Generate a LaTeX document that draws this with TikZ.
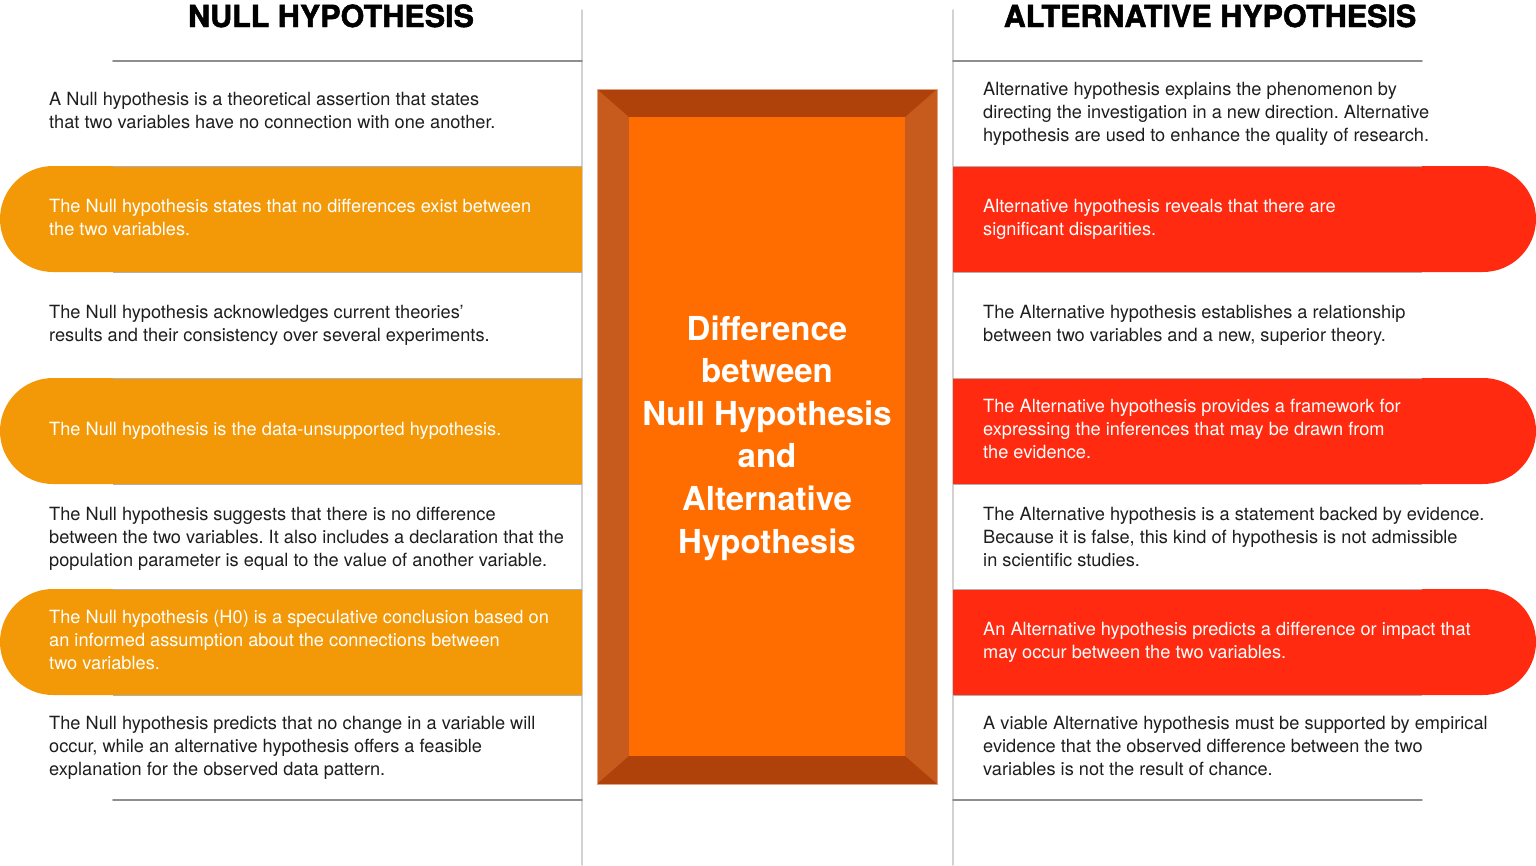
\documentclass[tikz,border=0pt]{standalone}
\RequirePackage{fontspec}
\RequirePackage{tikz}
\RequirePackage{tkz-euclide}
\usetikzlibrary{calc}
\setmainfont{TeX Gyre Heros}
\newfontfamily\headfont{TeX Gyre Heros}[BoldFeatures={FakeBold=1.6}]
\definecolor{nullband}{HTML}{F39806}
\definecolor{altband}{HTML}{FF2A10}
\definecolor{boxface}{HTML}{FF6D00}
\definecolor{boxtop}{HTML}{AF420A}
\definecolor{boxside}{HTML}{C75A1D}
\definecolor{inktext}{HTML}{1E1E1E}
\definecolor{rulegray}{HTML}{8E8E8E}
\frenchspacing
\begin{document}
\begin{tikzpicture}[x=1pt,y=-1pt,
        body/.style={anchor=base west,align=left,inner sep=0pt,text=inktext,font=\fontsize{18.2}{23}\selectfont},
        bandbody/.style={body,text=white},
        head/.style={anchor=base,inner sep=0pt,text=black,font=\fontsize{30.5}{34}\headfont\bfseries},
        rule/.style={rulegray,line width=1.6pt},
        edge/.style={rulegray!70,line width=1pt}]
                \useasboundingbox (0,0) rectangle (1536,865);

                \tkzDefPoint(582,10){LT}
                \tkzDefPoint(582,865){LB}
                \tkzDefPoint(953,10){RT}
                \tkzDefPoint(953,865){RB}
                \tkzDefPoint(113,61){NA}
                \tkzDefPoint(582,61){NB}
                \tkzDefPoint(113,800){NC}
                \tkzDefPoint(582,800){ND}
                \tkzDefPoint(953,61){AA}
                \tkzDefPoint(1422,61){AB}
                \tkzDefPoint(953,800){AC}
                \tkzDefPoint(1422,800){AD}

                \tkzDrawSegment[gray!35,line width=1.5pt](LT,LB)
                \tkzDrawSegment[gray!35,line width=1.5pt](RT,RB)
                \tkzDrawSegment[rule](NA,NB)
                \tkzDrawSegment[rule](NC,ND)
                \tkzDrawSegment[rule](AA,AB)
                \tkzDrawSegment[rule](AC,AD)

                \foreach \t/\b in {166/272,378/484,589/695}{
                    \fill[nullband] (582,\t) -- (53,\t) arc[start angle=270,end angle=90,radius=53] -- (582,\b) -- cycle;
                    \fill[altband] (953,\t) -- (1483,\t) arc[start angle=270,end angle=450,radius=53] -- (953,\b) -- cycle;
                    \draw[edge] (113,\t) -- (582,\t) (113,\b) -- (582,\b);
                    \draw[edge] (953,\t) -- (1422,\t) (953,\b) -- (1422,\b);
                }

                \tkzDefPoint(597,89){OA}
                \tkzDefPoint(937,89){OB}
                \tkzDefPoint(937,784){OC}
                \tkzDefPoint(597,784){OD}
                \tkzDefPoint(629,117){IA}
                \tkzDefPoint(905,117){IB}
                \tkzDefPoint(905,756){IC}
                \tkzDefPoint(629,756){ID}

                \fill[boxside] (OA) rectangle (OC);
                \fill[boxtop] (OA) -- (OB) -- (IB) -- (IA) -- cycle;
                \fill[boxtop] (OD) -- (OC) -- (IC) -- (ID) -- cycle;
                \fill[boxface] (IA) rectangle (IC);
                \draw[boxside!55,line width=0.8pt] (OA) rectangle (OC);

                \node[head] (nullhead) at (331,27) {NULL HYPOTHESIS};
                \node[head] (althead) at (1210,27) {ALTERNATIVE HYPOTHESIS};

                \node[anchor=base,align=center,inner sep=0pt,text=white,font=\fontsize{33}{42.6}\selectfont\bfseries] (diff) at (767,553)
                    {Difference\\between\\Null Hypothesis\\and\\Alternative\\Hypothesis};

                \node[body] (null1) at (49,128) {A Null hypothesis is a theoretical assertion that states\\that two variables have no connection with one another.};
                \node[bandbody] (null2) at (49,235.5) {The Null hypothesis states that no differences exist between\\the two variables.};
                \node[body] (null3) at (49,341.5) {The Null hypothesis acknowledges current theories'\\results and their consistency over several experiments.};
                \node[bandbody] (null4) at (49,435.5) {The Null hypothesis is the data-unsupported hypothesis.};
                \node[body] (null5) at (49,566) {The Null hypothesis suggests that there is no difference\\between the two variables. It also includes a declaration that the\\population parameter is equal to the value of another variable.};
                \node[bandbody] (null6) at (49,669.5) {The Null hypothesis (H0) is a speculative conclusion based on\\an informed assumption about the connections between\\two variables.};
                \node[body] (null7) at (49,775) {The Null hypothesis predicts that no change in a variable will\\occur, while an alternative hypothesis offers a feasible\\explanation for the observed data pattern.};

                \node[body] (alt1) at (983,141.5) {Alternative hypothesis explains the phenomenon by\\directing the investigation in a new direction. Alternative\\hypothesis are used to enhance the quality of research.};
                \node[bandbody] (alt2) at (983,235.5) {Alternative hypothesis reveals that there are\\significant disparities.};
                \node[body] (alt3) at (983,341.5) {The Alternative hypothesis establishes a relationship\\between two variables and a new, superior theory.};
                \node[bandbody] (alt4) at (983,458.5) {The Alternative hypothesis provides a framework for\\expressing the inferences that may be drawn from\\the evidence.};
                \node[body] (alt5) at (983,566) {The Alternative hypothesis is a statement backed by evidence.\\Because it is false, this kind of hypothesis is not admissible\\in scientific studies.};
                \node[bandbody] (alt6) at (983,658) {An Alternative hypothesis predicts a difference or impact that\\may occur between the two variables.};
                \node[body] (alt7) at (983,775) {A viable Alternative hypothesis must be supported by empirical\\evidence that the observed difference between the two\\variables is not the result of chance.};
            \end{tikzpicture}
\end{document}
